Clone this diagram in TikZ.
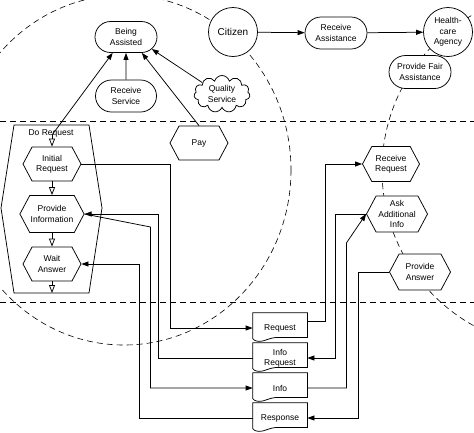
\documentclass[tikz,border=0pt]{standalone}
\usepackage{fontspec}
\setmainfont{Liberation Sans}
\usetikzlibrary{shapes.misc,shapes.symbols,shapes.geometric,arrows.meta,calc}
\newcommand\docshape[1]{%
  \draw (#1.north west) -- (#1.north east) -- ([yshift=6pt]#1.south east)
    -- ([xshift=26pt,yshift=6pt]#1.south west)
    .. controls ([xshift=16pt,yshift=6pt]#1.south west) and ([xshift=12pt,yshift=1.5pt]#1.south west) .. ([xshift=6pt,yshift=2pt]#1.south west)
    .. controls ([xshift=2pt,yshift=2.5pt]#1.south west) and ([yshift=4pt]#1.south west) .. ([yshift=5pt]#1.south west)
    -- cycle;}
\begin{document}
\begin{tikzpicture}[x=1pt,y=-1pt,
  font=\fontsize{8.5}{10.3}\selectfont,
  line width=0.75pt,
  every node/.style={align=center, inner sep=1pt},
  stad/.style={rounded rectangle, draw, fill=white, minimum width=64pt, minimum height=32pt},
  hexa/.style={signal, signal to=east and west, signal pointer angle=124, draw, fill=white, minimum width=58pt, minimum height=34pt},
  circ/.style={circle, draw, fill=white, minimum size=49pt},
  docbox/.style={rectangle, minimum width=54pt, minimum height=30pt},
  arr/.style={-{Triangle[length=7pt,width=5pt]}},
  oarr/.style={-{Triangle[open,length=8pt,width=6pt]}},
  dsh/.style={dash pattern=on 6pt off 4pt, line width=0.6pt},
]
\useasboundingbox (0,0) rectangle (474,432);
\begin{scope}
\clip (0,0) rectangle (474,432);
% dashed regions
\draw[dsh] (124,170) ellipse [x radius=167, y radius=175];
\draw[dsh] (560,170) circle [radius=178];
\draw[dsh] (0,121) -- (474,121);
\draw[dsh] (0,302) -- (474,302);

% Do Request container
\draw (14,125) -- (89,125) -- (102,208) -- (89,293) -- (14,293) -- (1,208) -- cycle;
\node (dr) at (51,133) {Do Request};
\coordinate (dt) at (52,135);
\coordinate (dbot) at (52,293);

% nodes
\node[stad, minimum height=31pt] (ba) at (126,37) {Being\\Assisted};
\node[stad, minimum width=63pt] (rs) at (126,96) {Receive\\Service};
\node[cloud, cloud puffs=11, draw, fill=white, minimum width=56pt, minimum height=37pt, aspect=1.5, inner sep=0pt] (qs) at (222,94) {Quality\\Service};
\node[circ, font=\fontsize{10}{12}\selectfont] (cit) at (233,32) {Citizen};
\node[stad] (ra) at (336,33) {Receive\\Assistance};
\node[circ] (hca) at (448,32) {Health-\\care\\Agency};
\node[stad, minimum height=33pt] (pfa) at (420,72) {Provide Fair\\Assistance};
\node[hexa] (pay) at (199,143) {Pay};
\node[hexa] (init) at (52,164) {Initial\\Request};
\node[hexa, minimum width=64pt, minimum height=37pt] (pinfo) at (52,214) {Provide\\Information};
\node[hexa] (wait) at (52,264) {Wait\\Answer};
\node[hexa, minimum width=57pt, minimum height=35pt] (rr) at (391,164) {Receive\\Request};
\node[hexa, minimum width=61pt, minimum height=36pt] (aai) at (397,214) {Ask\\Additional\\Info};
\node[hexa, minimum width=61pt, minimum height=36pt] (pa) at (420,272) {Provide\\Answer};

% documents
\node[docbox] (req) at (280,328) {Request};
\docshape{req}
\node[docbox] (ireq) at (280,358) {Info\\Request};
\docshape{ireq}
\node[docbox] (info) at (280,388) {Info};
\docshape{info}
\node[docbox] (resp) at (280,418) {Response};
\docshape{resp}

% top connectors
\draw[arr] (rs) -- (ba);
\draw[arr] (pay.north) -- (ba.-45);
\draw[arr] (qs.150) -- (ba.-25);
\draw[arr] (dt) -- (ba.-130);
\draw[arr] (cit) -- (ra);
\draw[arr] (ra) -- (hca);

% sequence in Do Request
\draw[oarr] (dt) -- (init.north);
\draw[oarr] (init.south) -- (pinfo.north);
\draw[oarr] (pinfo.south) -- (wait.north);
\draw[oarr] (wait.south) -- (dbot);

% message flows
\draw[arr] (init.east) -- ++(89,0) |- (req.west);
\draw[arr] ([yshift=7pt]req.east) -- ++(18,0) |- (rr.west);
\draw[arr] (aai.west) -- ++(-31,0) |- (ireq.east);
\draw[arr] (ireq.west) -- ++(-94,0) |- (pinfo.east);
\draw[arr] (pinfo.east) -- ++(66,13) |- (info.west);
\draw[arr] (info.east) -- ++(39,0) -- ++(0,-145) -- (aai.west);
\draw[arr] (pa.west) -- ++(-31,0) |- (resp.east);
\draw[arr] (resp.west) -- ++(-113,0) |- (wait.east);
\end{scope}
\end{tikzpicture}
\end{document}
